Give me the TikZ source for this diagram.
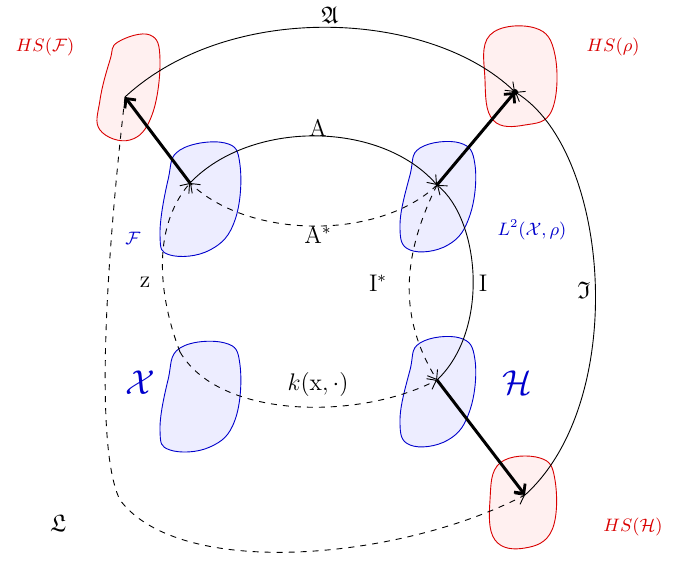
\documentclass[tikz,border=0pt]{standalone}
\usepackage{amsmath,amssymb}
\usetikzlibrary{arrows.meta}
\begin{document}
\begin{tikzpicture}[x=0.5pt,y=-0.5pt,
  redblob/.style={draw=red!85!black,fill=red!6,line width=0.45pt},
  blueblob/.style={draw=blue!80!black,fill=blue!7,line width=0.45pt},
  conn/.style={-{Straight Barb[length=4pt,width=6pt]},line width=0.45pt},
  dconn/.style={conn,dashed},
  thick arrow/.style={-{Straight Barb[length=3.5pt,width=7pt,line width=1.4pt]},line width=1.5pt},
  redlbl/.style={text=red!85!black,font=\small},
  bluelbl/.style={text=blue!80!black},
  lbl/.style={font=\large}]
\useasboundingbox (0,0) rectangle (687,565);
% blobs
\draw[redblob] plot[smooth cycle,tension=0.7] coordinates{(118,42)(150,35)(160,60)(152,115)(130,140)(100,130)(100,100)(110,60)};
\draw[redblob] plot[smooth cycle,tension=0.7] coordinates{(490,35)(535,28)(555,55)(552,110)(525,125)(493,120)(485,80)};
\draw[redblob] plot[smooth cycle,tension=0.7] coordinates{(500,463)(540,458)(555,480)(552,530)(525,548)(495,540)(490,500)};
\draw[blueblob] plot[smooth cycle,tension=0.7] coordinates{(180,150)(225,143)(240,165)(235,220)(210,250)(170,255)(160,235)(168,180)};
\draw[blueblob] plot[smooth cycle,tension=0.7] coordinates{(420,148)(460,143)(475,165)(470,215)(448,245)(410,250)(400,225)(410,175)};
\draw[blueblob] plot[smooth cycle,tension=0.7] coordinates{(180,348)(225,343)(240,365)(235,420)(210,447)(170,450)(160,430)(168,380)};
\draw[blueblob] plot[smooth cycle,tension=0.7] coordinates{(420,343)(460,338)(475,360)(470,410)(448,440)(410,445)(400,420)(410,370)};
% points
\coordinate (hsf) at (125,97);
\coordinate (hsr) at (515,92);
\coordinate (hsh) at (525,495);
\coordinate (f) at (190,183);
\coordinate (l) at (437,185);
\coordinate (x) at (180,352);
\coordinate (h) at (437,380);
\fill (hsr) circle (3);
% thick arrows
\draw[thick arrow] (f) -- (hsf);
\draw[thick arrow] (l) -- (hsr);
\draw[thick arrow] (h) -- (hsh);
% connectors
\draw[conn] (hsf) .. controls (230,0) and (430,10) .. (hsr);
\draw[conn] (f) .. controls (250,120) and (380,120) .. (l);
\draw[dconn] (l) .. controls (380,240) and (250,240) .. (f);
\draw[dconn] (x) .. controls (160,300) and (150,230) .. (f);
\draw[dconn] (x) .. controls (220,420) and (360,420) .. (h);
\draw[dconn] (l) .. controls (400,260) and (400,320) .. (h);
\draw[conn] (h) .. controls (490,330) and (480,220) .. (l);
\draw[conn] (hsh) .. controls (630,400) and (610,150) .. (hsr);
\draw[dconn] (hsf) .. controls (105,270) and (95,450) .. (120,500) .. controls (180,580) and (400,560) .. (hsh);
% labels
\node[redlbl] (lhsf) at (45,47) {$HS(\mathcal{F})$};
\node[redlbl] (lhsr) at (613,47) {$HS(\rho)$};
\node[redlbl] (lhsh) at (633,527) {$HS(\mathcal{H})$};
\node[bluelbl,font=\small] (lf) at (133,238) {$\mathcal{F}$};
\node[bluelbl,font=\small] (ll) at (532,230) {$L^2(\mathcal{X},\rho)$};
\node[bluelbl,font=\LARGE] (lx) at (140,383) {$\mathcal{X}$};
\node[bluelbl,font=\LARGE] (lh) at (517,383) {$\mathcal{H}$};
\node[lbl] (la) at (330,15) {$\mathfrak{A}$};
\node[lbl] (lA) at (318,128) {A};
\node[lbl] (lAs) at (318,235) {A$^*$};
\node[lbl] (lz) at (145,282) {z};
\node[lbl] (lk) at (318,385) {$k(\mathrm{x},\cdot)$};
\node[lbl] (lIs) at (378,283) {I$^*$};
\node[lbl] (lI) at (483,283) {I};
\node[lbl] (lJ) at (584,290) {$\mathfrak{I}$};
\node[lbl] (lL) at (58,523) {$\mathfrak{L}$};
\end{tikzpicture}
\end{document}
